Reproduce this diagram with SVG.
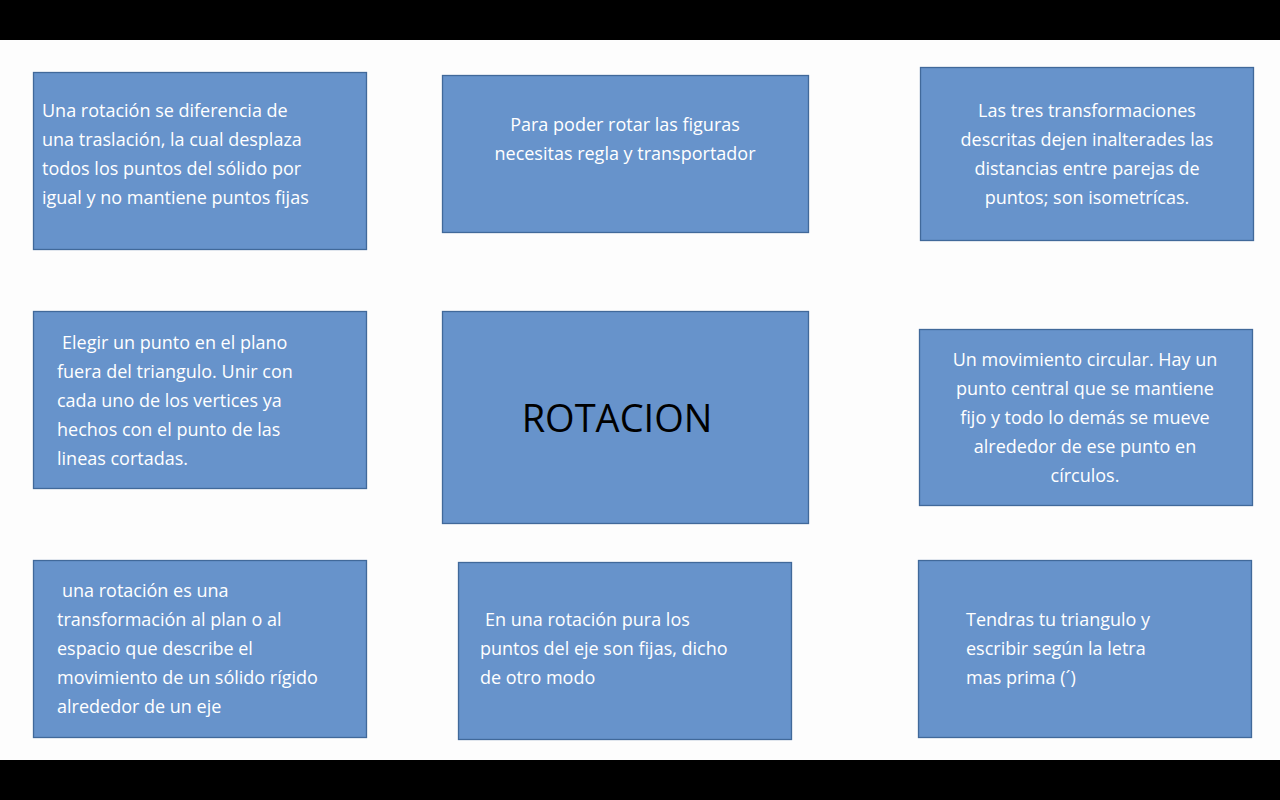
<svg xmlns="http://www.w3.org/2000/svg" width="1280" height="800" viewBox="0 0 1280 800">
<style>
.b{fill:#6793cb;stroke:#41699a;stroke-width:1.3}
.t{fill:#fff;font-family:"Open Sans","Liberation Sans",sans-serif;font-size:18px}
.c{text-anchor:middle}
</style>
<rect width="1280" height="800" fill="#fdfdfd"/>
<rect width="1280" height="40" fill="#000"/>
<rect y="760" width="1280" height="40" fill="#000"/>
<g id="n1"><rect class="b" x="33.5" y="72.5" width="333" height="177"/>
<text class="t" x="42"><tspan x="42" y="117">Una rotación se diferencia de</tspan><tspan x="42" y="146">una traslación, la cual desplaza</tspan><tspan x="42" y="175">todos los puntos del sólido por</tspan><tspan x="42" y="204">igual y no mantiene puntos fijas</tspan></text></g>
<g id="n2"><rect class="b" x="442.5" y="75.5" width="366" height="157"/>
<text class="t c"><tspan x="625" y="131">Para poder rotar las figuras</tspan><tspan x="625" y="160">necesitas regla y transportador</tspan></text></g>
<g id="n3"><rect class="b" x="920.5" y="67.5" width="333" height="173"/>
<text class="t c"><tspan x="1087" y="117">Las tres transformaciones</tspan><tspan x="1087" y="146">descritas dejen inalterades las</tspan><tspan x="1087" y="175">distancias entre parejas de</tspan><tspan x="1087" y="204">puntos; son isometrícas.</tspan></text></g>
<g id="n4"><rect class="b" x="33.5" y="311.5" width="333" height="177"/>
<text class="t"><tspan x="62" y="349">Elegir un punto en el plano</tspan><tspan x="57" y="378">fuera del triangulo. Unir con</tspan><tspan x="57" y="407">cada uno de los vertices ya</tspan><tspan x="57" y="436">hechos con el punto de las</tspan><tspan x="57" y="465">lineas cortadas.</tspan></text></g>
<g id="n5"><rect class="b" x="442.5" y="311.5" width="366" height="212"/>
<text x="617" y="432" text-anchor="middle" font-family="'Open Sans','Liberation Sans',sans-serif" font-size="38" fill="#000">ROTACION</text></g>
<g id="n6"><rect class="b" x="919.5" y="329.5" width="333" height="176"/>
<text class="t c"><tspan x="1085" y="366">Un movimiento circular. Hay un</tspan><tspan x="1085" y="395">punto central que se mantiene</tspan><tspan x="1085" y="424">fijo y todo lo demás se mueve</tspan><tspan x="1085" y="453">alrededor de ese punto en</tspan><tspan x="1085" y="482">círculos.</tspan></text></g>
<g id="n7"><rect class="b" x="33.5" y="560.5" width="333" height="177"/>
<text class="t"><tspan x="62" y="597">una rotación es una</tspan><tspan x="57" y="626">transformación al plan o al</tspan><tspan x="57" y="655">espacio que describe el</tspan><tspan x="57" y="684">movimiento de un sólido rígido</tspan><tspan x="57" y="713">alrededor de un eje</tspan></text></g>
<g id="n8"><rect class="b" x="458.5" y="562.5" width="333" height="177"/>
<text class="t"><tspan x="485" y="626">En una rotación pura los</tspan><tspan x="480" y="655">puntos del eje son fijas, dicho</tspan><tspan x="480" y="684">de otro modo</tspan></text></g>
<g id="n9"><rect class="b" x="918.5" y="560.5" width="333" height="177"/>
<text class="t"><tspan x="966" y="626">Tendras tu triangulo y</tspan><tspan x="966" y="655">escribir según la letra</tspan><tspan x="966" y="684">mas prima (´)</tspan></text></g>
<g id="connectors"/>
</svg>
